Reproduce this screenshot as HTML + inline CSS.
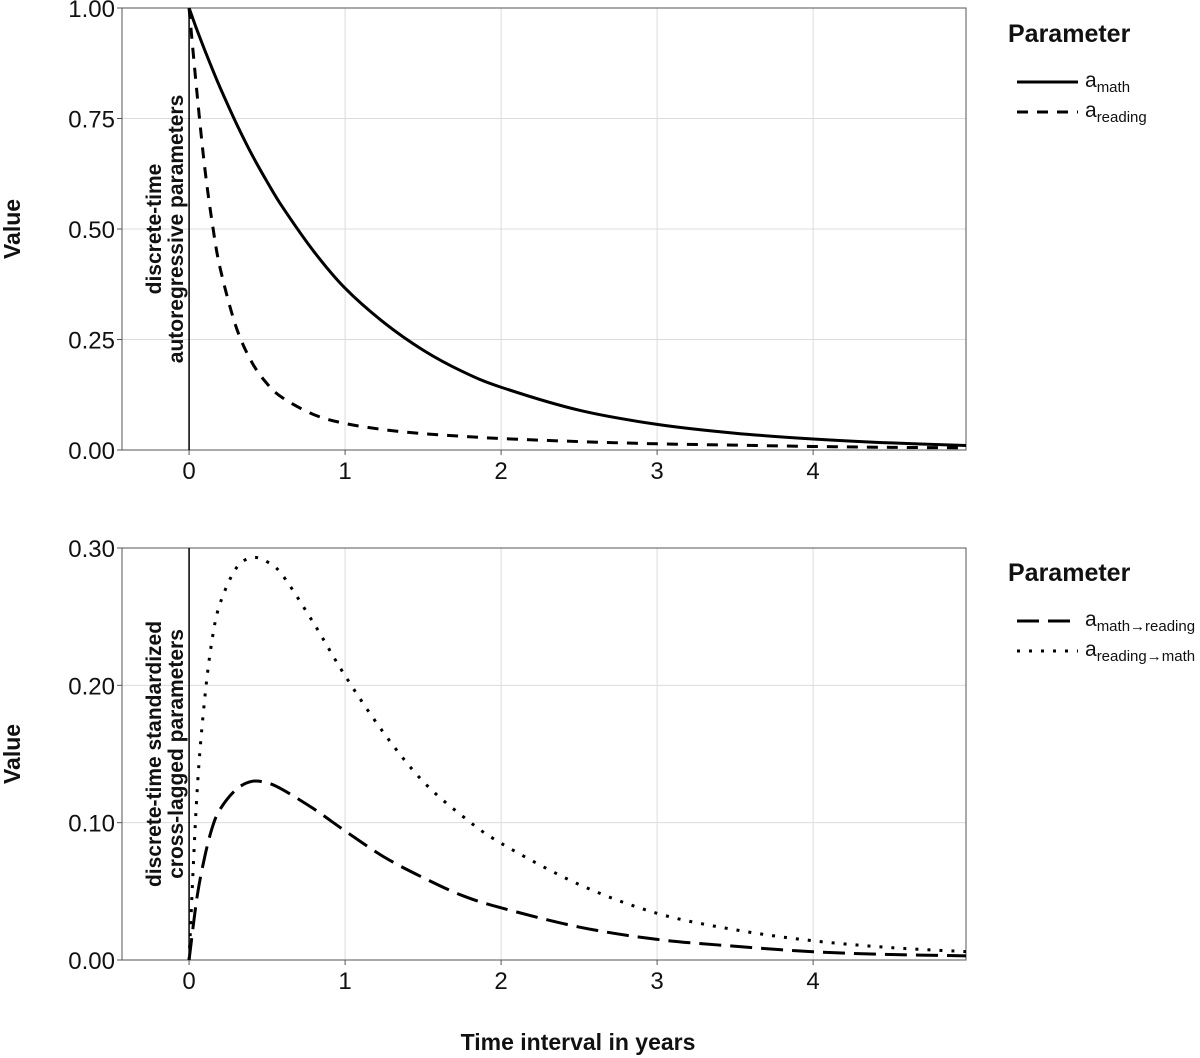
<!DOCTYPE html>
<html><head><meta charset="utf-8"><style>
body{margin:0;background:#fff;}
svg{display:block;font-family:"Liberation Sans",Arial,sans-serif;}
</style></head><body>
<svg id="chart" width="1200" height="1058"></svg>
<script>
const times=[0,0.05,0.1,0.15,0.2,0.3,0.4,0.5,0.6,0.8,1,1.25,1.5,1.75,2,2.5,3,3.5,4,4.5,5];
const aMath=[1,0.951,0.905,0.861,0.819,0.741,0.670,0.607,0.549,0.449,0.366,0.288,0.226,0.178,0.142,0.090,0.058,0.038,0.025,0.016,0.010];
const aReading=[1,0.81,0.64,0.51,0.41,0.28,0.2,0.15,0.118,0.08,0.06,0.046,0.037,0.031,0.026,0.019,0.014,0.011,0.008,0.006,0.005];
const aMathReading=[0,0.045,0.075,0.097,0.11,0.124,0.13,0.129,0.124,0.11,0.094,0.075,0.06,0.047,0.038,0.024,0.015,0.01,0.006,0.004,0.003];
const aReadingMath=[0,0.12,0.19,0.235,0.26,0.285,0.293,0.29,0.28,0.245,0.207,0.165,0.13,0.105,0.085,0.055,0.034,0.022,0.014,0.009,0.006];
const xTicks=[0,1,2,3,4];
const topTicks=[0,0.25,0.5,0.75,1];
const topTickLabels=["0.00","0.25","0.50","0.75","1.00"];
const botTicks=[0,0.1,0.2,0.3];
const botTickLabels=["0.00","0.10","0.20","0.30"];

const NS="http://www.w3.org/2000/svg";
const svg=document.getElementById('chart');
function mk(tag,attrs,parent){const e=document.createElementNS(NS,tag);for(const k in attrs)e.setAttribute(k,attrs[k]);(parent||svg).appendChild(e);return e;}
const L=122,R=966,xmin=-0.43,xmax=4.98;
const X=v=>L+(v-xmin)/(xmax-xmin)*(R-L);

function panel(name,top,bottom,ymax,ticks,labels,series,vtext,legend,legendY){
  const Y=v=>bottom-(v/ymax)*(bottom-top);
  const g=mk('g',{});
  
  
  ticks.forEach(t=>{const l=mk('line',{x1:L,x2:R,y1:Y(t),y2:Y(t),stroke:'#dcdcdc','stroke-width':1},g);
    });
  xTicks.forEach(t=>{const l=mk('line',{x1:X(t),x2:X(t),y1:top,y2:bottom,stroke:'#dcdcdc','stroke-width':1},g);
    });
  const box=mk('rect',{x:L,y:top,width:R-L,height:bottom-top,fill:'none',stroke:'#555','stroke-width':1},g);
  
  const zl=mk('line',{x1:X(0),x2:X(0),y1:top,y2:bottom,stroke:'#000','stroke-width':1.5},g);
  
  ticks.forEach((t,i)=>{
    const tk=mk('line',{x1:L-5,x2:L,y1:Y(t),y2:Y(t),stroke:'#555'},g);
    
    const tx=mk('text',{x:L-7,y:Y(t)+9,'text-anchor':'end','font-size':24,fill:'#111'},g);
    tx.textContent=labels[i];
    
  });
  xTicks.forEach(t=>{
    const tk=mk('line',{x1:X(t),x2:X(t),y1:bottom,y2:bottom+5,stroke:'#555'},g);
    
    const tx=mk('text',{x:X(t),y:bottom+29,'text-anchor':'middle','font-size':24,fill:'#111'},g);
    tx.textContent=t;
    
  });
  series.forEach(s=>{
    let d='';
    for(let i=0;i<times.length;i++){
      const p=[X(times[i]),Y(s.vals[i])];
      if(i===0){d+='M'+p.join(',');continue;}
      const p0=[X(times[Math.max(0,i-2)]),Y(s.vals[Math.max(0,i-2)])];
      const p1=[X(times[i-1]),Y(s.vals[i-1])];
      const p3=[X(times[Math.min(times.length-1,i+1)]),Y(s.vals[Math.min(times.length-1,i+1)])];
      const c1=[p1[0]+(p[0]-p0[0])/6,p1[1]+(p[1]-p0[1])/6];
      const c2=[p[0]-(p3[0]-p1[0])/6,p[1]-(p3[1]-p1[1])/6];
      d+=`C${c1},${c2},${p}`;
    }
    const path=mk('path',{d:d,fill:'none',stroke:'#000','stroke-width':3,'stroke-dasharray':s.dash,'clip-path':'url(#clip)'},g);
    
  });
  const vt=mk('text',{transform:`translate(165,${(top+bottom)/2}) rotate(-90)`,'text-anchor':'middle','font-size':21,'font-weight':'bold',fill:'#111'},g);
  
  vtext.forEach((line,i)=>{const ts=mk('tspan',{x:0,dy:i===0?-4:22},vt);ts.textContent=line;});
  const yl=mk('text',{transform:`translate(20,${(top+bottom)/2}) rotate(-90)`,'text-anchor':'middle','font-size':23,'font-weight':'bold',fill:'#111'},g);
  yl.textContent='Value';
  
  const lt=mk('text',{x:1008,y:legendY,'font-size':25,'font-weight':'bold',fill:'#111'},g);
  lt.textContent='Parameter';
  
  legend.forEach((e,i)=>{
    const yy=legendY+40+i*30;
    const lg=mk('g',{},g);
    
    mk('line',{x1:1017,x2:1078,y1:yy,y2:yy,stroke:'#000','stroke-width':3,'stroke-dasharray':e.dash},lg);
    const t=mk('text',{x:1085,y:yy+5,'font-size':21,fill:'#111'},lg);
    t.textContent=e.base;
    const s=mk('tspan',{dy:5,'font-size':15},t);s.textContent=e.sub;
  });
}
const defs=mk('defs',{});
const cp=mk('clipPath',{id:'clip'},defs);
mk('rect',{x:L,y:0,width:R-L,height:1058},cp);

panel('top-panel',8,450,1,topTicks,topTickLabels,
 [{name:'line-a-math',vals:aMath,dash:'none'},{name:'line-a-reading',vals:aReading,dash:'11,9'}],
 ['discrete-time','autoregressive parameters'],
 [{base:'a',sub:'math',dash:'none'},{base:'a',sub:'reading',dash:'11,9'}],42);
panel('bottom-panel',548,960,0.3,botTicks,botTickLabels,
 [{name:'line-a-math-reading',vals:aMathReading,dash:'22,9'},{name:'line-a-reading-math',vals:aReadingMath,dash:'3,9'}],
 ['discrete-time standardized','cross-lagged parameters'],
 [{base:'a',sub:'math→reading',dash:'22,9'},{base:'a',sub:'reading→math',dash:'3,9'}],581);
const xt=mk('text',{x:578,y:1050,'text-anchor':'middle','font-size':23,'font-weight':'bold',fill:'#111'});
xt.textContent='Time interval in years';


</script>
</body></html>
